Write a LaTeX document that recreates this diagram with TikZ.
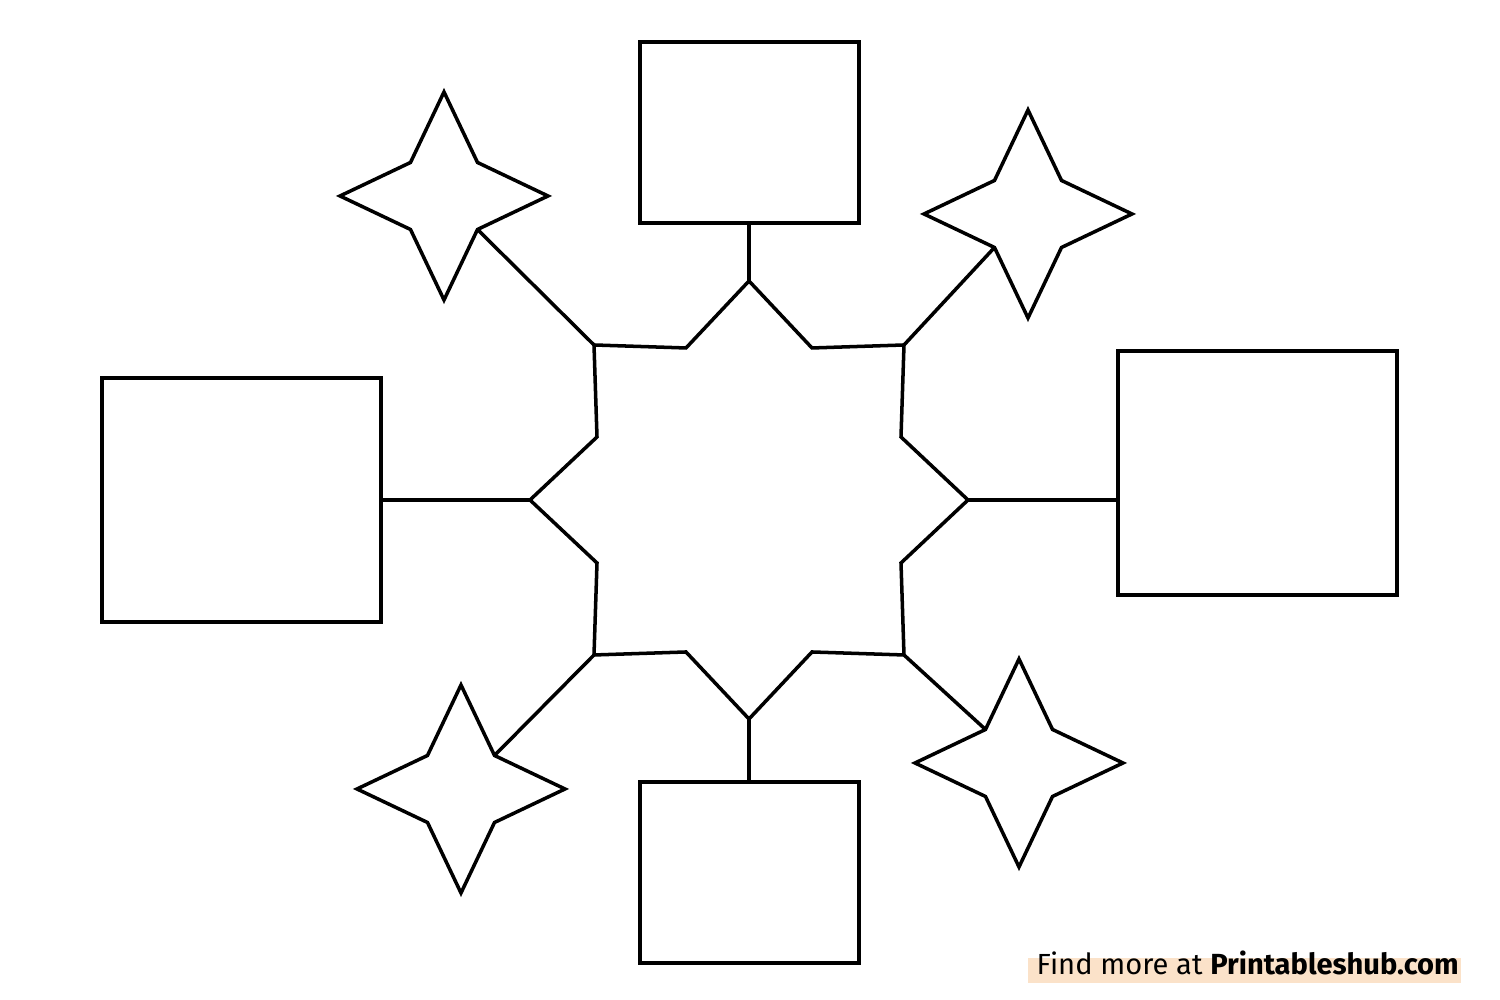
\documentclass[tikz,border=0pt]{standalone}
\usepackage{fontspec}
\setmainfont{Fira Sans}
\definecolor{peach}{RGB}{251,226,201}

\tikzset{
  outline/.style={draw=black, line width=1pt, line join=miter},
  box/.style={outline, rectangle, inner sep=0pt},
  link/.style={line width=1pt},
}

% four-pointed star: #1 = centre, #2 = name
\newcommand{\sparkle}[2]{%
  \begin{scope}[shift={(#1)}]
    \draw[outline] (0,1.04) coordinate (#2-n) -- (0.335,0.335) coordinate (#2-ne)
      -- (1.04,0) -- (0.335,-0.335) coordinate (#2-se)
      -- (0,-1.04) -- (-0.335,-0.335) coordinate (#2-sw)
      -- (-1.04,0) -- (-0.335,0.335) coordinate (#2-nw) -- cycle;
  \end{scope}}

\begin{document}
\begin{tikzpicture}
\useasboundingbox (0,0) rectangle (15,10);

% centre star
\begin{scope}[shift={(7.49,5.0)}]
  \draw[outline] (0,2.19) coordinate (hub-n) -- (0.63,1.52) -- (1.55,1.55) coordinate (hub-ne)
    -- (1.52,0.63) -- (2.19,0) coordinate (hub-e) -- (1.52,-0.63) -- (1.55,-1.55) coordinate (hub-se)
    -- (0.63,-1.52) -- (0,-2.19) coordinate (hub-s) -- (-0.63,-1.52) -- (-1.55,-1.55) coordinate (hub-sw)
    -- (-1.52,-0.63) -- (-2.19,0) coordinate (hub-w) -- (-1.52,0.63) -- (-1.55,1.55) coordinate (hub-nw)
    -- (-0.63,1.52) -- cycle;
\end{scope}

% boxes
\node[box, minimum width=2.19cm, minimum height=1.81cm] (top) at (7.495,8.675) {};
\node[box, minimum width=2.19cm, minimum height=1.81cm] (bottom) at (7.495,1.275) {};
\node[box, minimum width=2.79cm, minimum height=2.44cm] (left) at (2.415,5.0) {};
\node[box, minimum width=2.79cm, minimum height=2.44cm] (right) at (12.575,5.27) {};

% small stars
\sparkle{4.44,8.04}{tl}
\sparkle{10.28,7.86}{tr}
\sparkle{4.61,2.11}{bl}
\sparkle{10.19,2.37}{br}

% spokes
\draw[link] (top.south -| hub-n) -- (hub-n);
\draw[link] (bottom.north -| hub-s) -- (hub-s);
\draw[link] (left.east |- hub-w) -- (hub-w);
\draw[link] (hub-e) -- (hub-e -| right.west);
\draw[link] (tl-se) -- (hub-nw);
\draw[link] (tr-sw) -- (hub-ne);
\draw[link] (bl-ne) -- (hub-sw);
\draw[link] (br-nw) -- (hub-se);

% footer
\fill[peach] (10.28,0.173) rectangle (14.607,0.42);
\node[anchor=base west, inner sep=0pt, font=\fontsize{8.28}{10}\selectfont] (credit) at (10.36,0.25)
  {Find more at \textbf{Printableshub.com}};
\end{tikzpicture}
\end{document}
